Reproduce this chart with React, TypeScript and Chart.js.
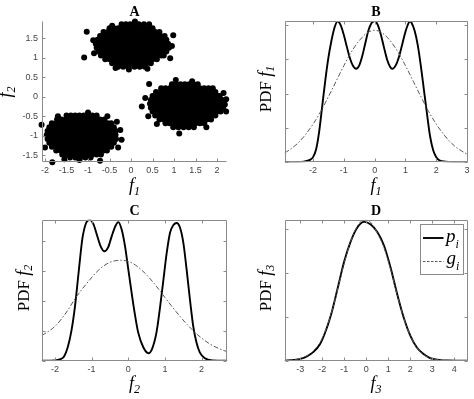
import React, { useEffect, useRef } from "react";
import { Chart, registerables } from "chart.js";
Chart.register(...registerables);

const W = 474;
const H = 399;

// ---------------- Panel A: f1 vs f2 samples (three clusters) ----------------
// rows: [f2, list of f1 values]
const clusterTopRows: [number, number[]][] = [
  [1.86, [-0.22, -0.12, -0.02, 0.08, 0.18, 0.3]],
  [1.76, [-0.5, -0.4, -0.3, -0.2, -0.1, 0, 0.1, 0.2, 0.3, 0.4, 0.5]],
  [1.66, [-0.64, -0.54, -0.44, -0.34, -0.24, -0.14, -0.04, 0.06, 0.16, 0.26, 0.36, 0.46, 0.56, 0.66]],
  [1.56, [-0.72, -0.62, -0.52, -0.42, -0.32, -0.22, -0.12, -0.02, 0.08, 0.18, 0.28, 0.38, 0.48, 0.58, 0.68, 0.78]],
  [1.46, [-0.78, -0.68, -0.58, -0.48, -0.38, -0.28, -0.18, -0.08, 0.02, 0.12, 0.22, 0.32, 0.42, 0.52, 0.62, 0.72, 0.82]],
  [1.36, [-0.82, -0.72, -0.62, -0.52, -0.42, -0.32, -0.22, -0.12, -0.02, 0.08, 0.18, 0.28, 0.38, 0.48, 0.58, 0.68, 0.78, 0.86]],
  [1.26, [-0.8, -0.7, -0.6, -0.5, -0.4, -0.3, -0.2, -0.1, 0, 0.1, 0.2, 0.3, 0.4, 0.5, 0.6, 0.7, 0.8, 0.88]],
  [1.16, [-0.76, -0.66, -0.56, -0.46, -0.36, -0.26, -0.16, -0.06, 0.04, 0.14, 0.24, 0.34, 0.44, 0.54, 0.64, 0.74, 0.82]],
  [1.06, [-0.7, -0.6, -0.5, -0.4, -0.3, -0.2, -0.1, 0, 0.1, 0.2, 0.3, 0.4, 0.5, 0.6, 0.7, 0.76]],
  [0.96, [-0.6, -0.5, -0.4, -0.3, -0.2, -0.1, 0, 0.1, 0.2, 0.3, 0.4, 0.5, 0.6]],
  [0.86, [-0.44, -0.34, -0.24, -0.14, -0.04, 0.06, 0.16, 0.26, 0.36, 0.46]],
  [0.77, [-0.3, -0.18, -0.05, 0.08, 0.2, 0.32]],
];
const clusterRightRows: [number, number[]][] = [
  [0.32, [0.95, 1.05, 1.15, 1.25, 1.35, 1.45, 1.55]],
  [0.22, [0.7, 0.8, 0.9, 1.0, 1.1, 1.2, 1.3, 1.4, 1.5, 1.6, 1.7, 1.8]],
  [0.12, [0.58, 0.68, 0.78, 0.88, 0.98, 1.08, 1.18, 1.28, 1.38, 1.48, 1.58, 1.68, 1.78, 1.88, 1.96]],
  [0.02, [0.5, 0.6, 0.7, 0.8, 0.9, 1.0, 1.1, 1.2, 1.3, 1.4, 1.5, 1.6, 1.7, 1.8, 1.9, 2.0, 2.06]],
  [-0.08, [0.46, 0.56, 0.66, 0.76, 0.86, 0.96, 1.06, 1.16, 1.26, 1.36, 1.46, 1.56, 1.66, 1.76, 1.86, 1.96, 2.06, 2.12]],
  [-0.18, [0.44, 0.54, 0.64, 0.74, 0.84, 0.94, 1.04, 1.14, 1.24, 1.34, 1.44, 1.54, 1.64, 1.74, 1.84, 1.94, 2.04, 2.14]],
  [-0.28, [0.46, 0.56, 0.66, 0.76, 0.86, 0.96, 1.06, 1.16, 1.26, 1.36, 1.46, 1.56, 1.66, 1.76, 1.86, 1.96, 2.06, 2.14]],
  [-0.38, [0.5, 0.6, 0.7, 0.8, 0.9, 1.0, 1.1, 1.2, 1.3, 1.4, 1.5, 1.6, 1.7, 1.8, 1.9, 2.0, 2.08]],
  [-0.48, [0.56, 0.66, 0.76, 0.86, 0.96, 1.06, 1.16, 1.26, 1.36, 1.46, 1.56, 1.66, 1.76, 1.86, 1.96]],
  [-0.58, [0.66, 0.76, 0.86, 0.96, 1.06, 1.16, 1.26, 1.36, 1.46, 1.56, 1.66, 1.76, 1.86]],
  [-0.68, [0.8, 0.9, 1.0, 1.1, 1.2, 1.3, 1.4, 1.5, 1.6, 1.7]],
  [-0.78, [0.98, 1.1, 1.22, 1.34, 1.46]],
];
const clusterLeftRows: [number, number[]][] = [
  [-0.48, [-1.5, -1.4, -1.3, -1.2, -1.1, -1.0, -0.9, -0.8]],
  [-0.58, [-1.72, -1.62, -1.52, -1.42, -1.32, -1.22, -1.12, -1.02, -0.92, -0.82, -0.72, -0.62]],
  [-0.68, [-1.84, -1.74, -1.64, -1.54, -1.44, -1.34, -1.24, -1.14, -1.04, -0.94, -0.84, -0.74, -0.64, -0.54, -0.46]],
  [-0.78, [-1.9, -1.8, -1.7, -1.6, -1.5, -1.4, -1.3, -1.2, -1.1, -1.0, -0.9, -0.8, -0.7, -0.6, -0.5, -0.4]],
  [-0.88, [-1.94, -1.84, -1.74, -1.64, -1.54, -1.44, -1.34, -1.24, -1.14, -1.04, -0.94, -0.84, -0.74, -0.64, -0.54, -0.44, -0.36]],
  [-0.98, [-1.96, -1.86, -1.76, -1.66, -1.56, -1.46, -1.36, -1.26, -1.16, -1.06, -0.96, -0.86, -0.76, -0.66, -0.56, -0.46, -0.36]],
  [-1.08, [-1.94, -1.84, -1.74, -1.64, -1.54, -1.44, -1.34, -1.24, -1.14, -1.04, -0.94, -0.84, -0.74, -0.64, -0.54, -0.44, -0.35]],
  [-1.18, [-1.9, -1.8, -1.7, -1.6, -1.5, -1.4, -1.3, -1.2, -1.1, -1.0, -0.9, -0.8, -0.7, -0.6, -0.5, -0.4]],
  [-1.28, [-1.84, -1.74, -1.64, -1.54, -1.44, -1.34, -1.24, -1.14, -1.04, -0.94, -0.84, -0.74, -0.64, -0.54, -0.46]],
  [-1.38, [-1.74, -1.64, -1.54, -1.44, -1.34, -1.24, -1.14, -1.04, -0.94, -0.84, -0.74, -0.64, -0.56]],
  [-1.48, [-1.6, -1.5, -1.4, -1.3, -1.2, -1.1, -1.0, -0.9, -0.8, -0.7]],
  [-1.56, [-1.42, -1.3, -1.18, -1.06, -0.94]],
];
const scatterOutliers: [number, number][] = [
  [-1.03, 1.67], [-1.09, 1.01], [0.98, 1.58], [0.91, 0.99], [0.09, 1.93], [0.42, 1.86],
  [-0.44, 1.82], [0.38, 0.72], [-0.36, 0.74], [0.95, 1.3], [-0.05, 0.7], [-0.88, 1.45], [-0.86, 1.12],
  [2.21, -0.06], [2.21, -0.38], [1.12, -0.94], [0.25, -0.25], [0.33, -0.03], [0.42, 0.33],
  [1.04, 0.43], [1.42, 0.4], [2.18, -0.2], [1.75, -0.78], [0.6, -0.7], [1.9, 0.22], [0.4, -0.5], [2.15, 0.1],
  [-2.08, -0.72], [-1.83, -1.68], [-0.72, -1.64], [-0.22, -1.1], [-0.33, -0.64], [-1.0, -0.4],
  [-2.0, -1.3], [-1.55, -1.6], [-0.3, -1.3], [-0.55, -0.5], [-1.7, -0.5], [-0.25, -0.85], [-1.2, -1.62],
];
const xTicksA = [-2, -1.5, -1, -0.5, 0, 0.5, 1, 1.5, 2];
const yTicksA = [-1.5, -1, -0.5, 0, 0.5, 1, 1.5];

// ---------------- Panel B: PDF of f1 ----------------
const f1P = [-2.92, -2.6, -2.3, -2.1, -2.0, -1.9, -1.8, -1.7, -1.6, -1.5, -1.4, -1.3, -1.2, -1.1, -1.0, -0.9, -0.8, -0.7, -0.6, -0.5, -0.4, -0.3, -0.2, -0.1, 0, 0.1, 0.2, 0.3, 0.4, 0.5, 0.57, 0.7, 0.8, 0.9, 1.0, 1.1, 1.15, 1.2, 1.3, 1.4, 1.5, 1.6, 1.7, 1.8, 1.9, 2.0, 2.1, 2.3, 2.6, 3.02];
const pdfF1P = [0, 0.0005, 0.002, 0.007, 0.015, 0.038, 0.09, 0.165, 0.24, 0.305, 0.355, 0.393, 0.41, 0.398, 0.37, 0.335, 0.302, 0.28, 0.272, 0.282, 0.31, 0.348, 0.384, 0.405, 0.411, 0.4, 0.372, 0.335, 0.3, 0.278, 0.272, 0.285, 0.31, 0.345, 0.38, 0.405, 0.41, 0.405, 0.382, 0.34, 0.28, 0.21, 0.14, 0.075, 0.035, 0.015, 0.006, 0.002, 0.0005, 0];
const f1G = [-2.92, -2.75, -2.5, -2.25, -2.0, -1.75, -1.5, -1.25, -1.0, -0.75, -0.5, -0.25, 0, 0.25, 0.5, 0.75, 1.0, 1.25, 1.5, 1.75, 2.0, 2.25, 2.5, 2.75, 3.02];
const pdfF1G = [0.027, 0.037, 0.055, 0.08, 0.111, 0.148, 0.191, 0.236, 0.281, 0.322, 0.354, 0.376, 0.384, 0.376, 0.354, 0.322, 0.281, 0.236, 0.191, 0.148, 0.111, 0.08, 0.055, 0.037, 0.023];
const xTicksB = [-2, -1, 0, 1, 2, 3];
const yTicksB = [0, 0.1, 0.2, 0.3, 0.4];

// ---------------- Panel C: PDF of f2 ----------------
const f2P = [-2.36, -2.0, -1.85, -1.75, -1.65, -1.55, -1.45, -1.35, -1.25, -1.15, -1.05, -0.95, -0.85, -0.75, -0.65, -0.55, -0.45, -0.35, -0.27, -0.18, -0.09, 0.0, 0.09, 0.18, 0.27, 0.41, 0.55, 0.65, 0.77, 0.86, 0.95, 1.05, 1.14, 1.23, 1.32, 1.41, 1.5, 1.59, 1.68, 1.77, 1.86, 1.95, 2.09, 2.3, 2.7];
const pdfF2P = [0, 0.001, 0.005, 0.014, 0.045, 0.1, 0.185, 0.3, 0.41, 0.462, 0.473, 0.458, 0.42, 0.383, 0.367, 0.38, 0.418, 0.452, 0.465, 0.44, 0.385, 0.307, 0.229, 0.156, 0.095, 0.045, 0.025, 0.04, 0.095, 0.173, 0.263, 0.363, 0.43, 0.455, 0.462, 0.447, 0.397, 0.307, 0.207, 0.117, 0.061, 0.028, 0.008, 0.001, 0];
const f2G = [-2.36, -2.0, -1.7, -1.45, -1.14, -0.8, -0.5, -0.18, 0.1, 0.4, 0.7, 1.0, 1.3, 1.6, 1.9, 2.2, 2.45, 2.7];
const pdfF2G = [0.084, 0.115, 0.16, 0.208, 0.258, 0.305, 0.33, 0.337, 0.328, 0.3, 0.26, 0.212, 0.165, 0.122, 0.086, 0.058, 0.042, 0.03];
const xTicksC = [-2, -1, 0, 1, 2];
const yTicksC = [0, 0.1, 0.2, 0.3, 0.4];

// ---------------- Panel D: PDF of f3 ----------------
const f3Grid = [-3.71, -3.3, -3.0, -2.7, -2.4, -2.1, -1.9, -1.6, -1.3, -1.0, -0.7, -0.4, -0.1, 0.2, 0.5, 0.8, 1.1, 1.4, 1.7, 2.0, 2.3, 2.6, 2.9, 3.3, 3.7, 4.61];
const pdfF3P = [0, 0.0015, 0.004, 0.01, 0.02, 0.038, 0.06, 0.105, 0.165, 0.226, 0.272, 0.303, 0.315, 0.309, 0.292, 0.262, 0.212, 0.152, 0.098, 0.057, 0.03, 0.015, 0.006, 0.002, 0.0005, 0];
const pdfF3G = [0.0005, 0.002, 0.005, 0.011, 0.023, 0.042, 0.063, 0.106, 0.163, 0.222, 0.272, 0.306, 0.32, 0.314, 0.29, 0.257, 0.208, 0.15, 0.097, 0.057, 0.03, 0.014, 0.006, 0.002, 0.0005, 0];
const xTicksD = [-3, -2, -1, 0, 1, 2, 3, 4];
const yTicksD = [0, 0.1, 0.2, 0.3];

const legendLabels = ["p", "g"];
const legendSub = "i";

// ---------------- styling ----------------
const SERIF = '"Liberation Serif", "Times New Roman", serif';
const SANS = '"Liberation Sans", Arial, Helvetica, sans-serif';
const AXIS = "#8a8a8a";
const TICKTXT = "#444444";
const GCOL = "#5a5a5a";
const GDASH = [5, 2, 1.5, 2];

type Part = { t: string; size: number; italic?: boolean; bold?: boolean; dy?: number };

function fontOf(p: Part) {
  return `${p.italic ? "italic " : ""}${p.bold ? "bold " : ""}${p.size}px ${SERIF}`;
}

function drawParts(ctx: CanvasRenderingContext2D, parts: Part[], x: number, y: number, rot: boolean, align: "center" | "left" = "center") {
  ctx.save();
  ctx.translate(x, y);
  if (rot) ctx.rotate(-Math.PI / 2);
  let total = 0;
  const widths = parts.map((p) => {
    ctx.font = fontOf(p);
    const w = ctx.measureText(p.t).width;
    total += w;
    return w;
  });
  let cx = align === "center" ? -total / 2 : 0;
  ctx.textBaseline = "alphabetic";
  ctx.textAlign = "left";
  ctx.fillStyle = "#000";
  parts.forEach((p, i) => {
    ctx.font = fontOf(p);
    ctx.fillText(p.t, cx, p.dy || 0);
    cx += widths[i];
  });
  ctx.restore();
}

const toPts = (xs: number[], ys: number[]) => xs.map((x, i) => ({ x, y: ys[i] }));
const rowsToPts = (rows: [number, number[]][]) => rows.flatMap(([y, xs]) => xs.map((x) => ({ x, y })));

interface PanelSpec {
  area: [number, number, number, number];
  xRange: [number, number];
  yRange: [number, number];
  xTicks: number[];
  yTicks: number[];
  yLabels: boolean;
  box: boolean;
  datasets: any[];
  title: string;
  titlePos: [number, number];
  xLabel: Part[];
  xLabelPos: [number, number];
  yLabel: Part[];
  yLabelPos: [number, number];
  legend?: boolean;
}

const lineP = (xs: number[], ys: number[]) => ({
  data: toPts(xs, ys),
  showLine: true,
  pointRadius: 0,
  borderColor: "#000",
  borderWidth: 1.9,
  cubicInterpolationMode: "monotone",
  fill: false,
});
const lineG = (xs: number[], ys: number[]) => ({
  data: toPts(xs, ys),
  showLine: true,
  pointRadius: 0,
  borderColor: GCOL,
  borderWidth: 1,
  borderDash: GDASH,
  cubicInterpolationMode: "monotone",
  fill: false,
});

const sub = (base: string, s: string, size = 18): Part[] => [
  { t: base, size, italic: true },
  { t: s, size: 12, italic: true, dy: 3.5 },
];

const panels: PanelSpec[] = [
  {
    area: [42, 21, 227, 162.3],
    xRange: [-2.07, 2.23],
    yRange: [-1.68, 1.944],
    xTicks: xTicksA,
    yTicks: yTicksA,
    yLabels: true,
    box: false,
    datasets: [
      {
        data: [
          ...rowsToPts(clusterTopRows),
          ...rowsToPts(clusterRightRows),
          ...rowsToPts(clusterLeftRows),
          ...scatterOutliers.map(([x, y]) => ({ x, y })),
        ],
        pointRadius: 3,
        pointBackgroundColor: "#000",
        pointBorderWidth: 0,
        pointBorderColor: "#000",
        showLine: false,
        clip: 6,
      },
    ],
    title: "A",
    titlePos: [134.5, 15.5],
    xLabel: sub("f", "1"),
    xLabelPos: [134.5, 191],
    yLabel: sub("f", "2"),
    yLabelPos: [11, 92],
  },
  {
    area: [284.7, 21, 467.7, 162.3],
    xRange: [-2.92, 3.02],
    yRange: [0, 0.411],
    xTicks: xTicksB,
    yTicks: yTicksB,
    yLabels: false,
    box: true,
    datasets: [lineG(f1G, pdfF1G), lineP(f1P, pdfF1P)],
    title: "B",
    titlePos: [376, 15.5],
    xLabel: sub("f", "1"),
    xLabelPos: [376, 191],
    yLabel: [{ t: "PDF ", size: 17 }, ...sub("f", "1")],
    yLabelPos: [270.5, 89],
  },
  {
    area: [41.7, 219.7, 227.3, 360.7],
    xRange: [-2.36, 2.7],
    yRange: [0, 0.473],
    xTicks: xTicksC,
    yTicks: yTicksC,
    yLabels: false,
    box: true,
    datasets: [lineG(f2G, pdfF2G), lineP(f2P, pdfF2P)],
    title: "C",
    titlePos: [134.5, 214.5],
    xLabel: sub("f", "2"),
    xLabelPos: [134.5, 389],
    yLabel: [{ t: "PDF ", size: 17 }, ...sub("f", "2")],
    yLabelPos: [28.5, 288],
  },
  {
    area: [284.7, 219.7, 467.7, 360.7],
    xRange: [-3.71, 4.61],
    yRange: [0, 0.32],
    xTicks: xTicksD,
    yTicks: yTicksD,
    yLabels: false,
    box: true,
    datasets: [lineG(f3Grid, pdfF3G), lineP(f3Grid, pdfF3P)],
    title: "D",
    titlePos: [376, 214.5],
    xLabel: sub("f", "3"),
    xLabelPos: [376, 389],
    yLabel: [{ t: "PDF ", size: 17 }, ...sub("f", "3")],
    yLabelPos: [270.5, 288],
    legend: true,
  },
];

function makeDecor(spec: PanelSpec) {
  return {
    id: "decor",
    afterDraw(chart: any) {
      const ctx: CanvasRenderingContext2D = chart.ctx;
      const { left, top, right, bottom } = chart.chartArea;
      const xs = chart.scales.x;
      const ys = chart.scales.y;
      const L = Math.round(left) + 0.5;
      const R = Math.round(right) - 0.5;
      const T = Math.round(top) + 0.5;
      const B = Math.round(bottom) - 0.5;
      ctx.save();
      ctx.strokeStyle = AXIS;
      ctx.lineWidth = 1;
      ctx.beginPath();
      ctx.moveTo(L, T);
      ctx.lineTo(L, B);
      ctx.lineTo(R, B);
      if (spec.box) {
        ctx.lineTo(R, T);
        ctx.lineTo(L, T);
      }
      ctx.stroke();
      const tl = 3;
      ctx.beginPath();
      spec.xTicks.forEach((v) => {
        const px = Math.round(xs.getPixelForValue(v)) + 0.5;
        ctx.moveTo(px, B);
        ctx.lineTo(px, B - tl);
        if (spec.box) {
          ctx.moveTo(px, T);
          ctx.lineTo(px, T + tl);
        }
      });
      spec.yTicks.forEach((v) => {
        const py = Math.round(ys.getPixelForValue(v)) + 0.5;
        ctx.moveTo(L, py);
        ctx.lineTo(L + tl, py);
        if (spec.box) {
          ctx.moveTo(R, py);
          ctx.lineTo(R - tl, py);
        }
      });
      ctx.stroke();
      ctx.restore();

      drawParts(ctx, [{ t: spec.title, size: 14, bold: true }], spec.titlePos[0], spec.titlePos[1], false);
      drawParts(ctx, spec.xLabel, spec.xLabelPos[0], spec.xLabelPos[1], false);
      drawParts(ctx, spec.yLabel, spec.yLabelPos[0], spec.yLabelPos[1], true);

      if (spec.legend) {
        const bx = 420.5, by = 224.5, bw = 43, bh = 50;
        ctx.save();
        ctx.fillStyle = "#fff";
        ctx.fillRect(bx, by, bw, bh);
        ctx.strokeStyle = AXIS;
        ctx.lineWidth = 1;
        ctx.strokeRect(bx, by, bw, bh);
        ctx.strokeStyle = "#000";
        ctx.lineWidth = 1.9;
        ctx.beginPath();
        ctx.moveTo(423, 238);
        ctx.lineTo(443.5, 238);
        ctx.stroke();
        ctx.strokeStyle = GCOL;
        ctx.lineWidth = 1;
        ctx.setLineDash([2.5, 1.5]);
        ctx.beginPath();
        ctx.moveTo(423, 261.5);
        ctx.lineTo(443.5, 261.5);
        ctx.stroke();
        ctx.restore();
        drawParts(ctx, [{ t: legendLabels[0], size: 19, italic: true }, { t: legendSub, size: 12, italic: true, dy: 6 }], 446, 241.5, false, "left");
        drawParts(ctx, [{ t: legendLabels[1], size: 19, italic: true }, { t: legendSub, size: 12, italic: true, dy: 6 }], 446.5, 264, false, "left");
      }
    },
  };
}

function Panel({ spec }: { spec: PanelSpec }) {
  const ref = useRef<HTMLCanvasElement | null>(null);
  useEffect(() => {
    if (!ref.current) return;
    const [l, t, r, b] = spec.area;
    const yw = spec.yLabels ? 30 : 0;
    const xh = 20;
    const chart = new Chart(ref.current, {
      type: "scatter",
      data: { datasets: spec.datasets as any },
      options: {
        responsive: false,
        animation: false,
        devicePixelRatio: 1,
        events: [],
        layout: { padding: { left: l - yw, top: t, right: W - r, bottom: H - b - xh } },
        plugins: { legend: { display: false }, title: { display: false }, tooltip: { enabled: false } },
        scales: {
          x: {
            type: "linear",
            min: spec.xRange[0],
            max: spec.xRange[1],
            afterBuildTicks: (s: any) => {
              s.ticks = spec.xTicks.map((v) => ({ value: v }));
            },
            afterFit: (s: any) => {
              s.height = xh;
            },
            grid: { display: false, drawTicks: false },
            border: { display: false },
            ticks: {
              autoSkip: false,
              maxRotation: 0,
              padding: 3,
              color: TICKTXT,
              font: { family: SANS, size: 9 },
              callback: (v: any) => String(v),
            },
          },
          y: {
            type: "linear",
            min: spec.yRange[0],
            max: spec.yRange[1],
            afterBuildTicks: (s: any) => {
              s.ticks = spec.yTicks.map((v) => ({ value: v }));
            },
            afterFit: (s: any) => {
              s.width = yw;
            },
            grid: { display: false, drawTicks: false },
            border: { display: false },
            ticks: {
              display: spec.yLabels,
              autoSkip: false,
              padding: 4,
              color: TICKTXT,
              font: { family: SANS, size: 9 },
              callback: (v: any) => String(v),
            },
          },
        },
      } as any,
      plugins: [makeDecor(spec)],
    });
    return () => chart.destroy();
  }, [spec]);
  return <canvas ref={ref} width={W} height={H} style={{ position: "absolute", left: 0, top: 0, width: W, height: H }} />;
}

export default function App() {
  return (
    <div style={{ position: "absolute", left: 0, top: 0, width: W, height: H, background: "#fff", overflow: "hidden" }}>
      {panels.map((p, i) => (
        <Panel key={i} spec={p} />
      ))}
    </div>
  );
}
